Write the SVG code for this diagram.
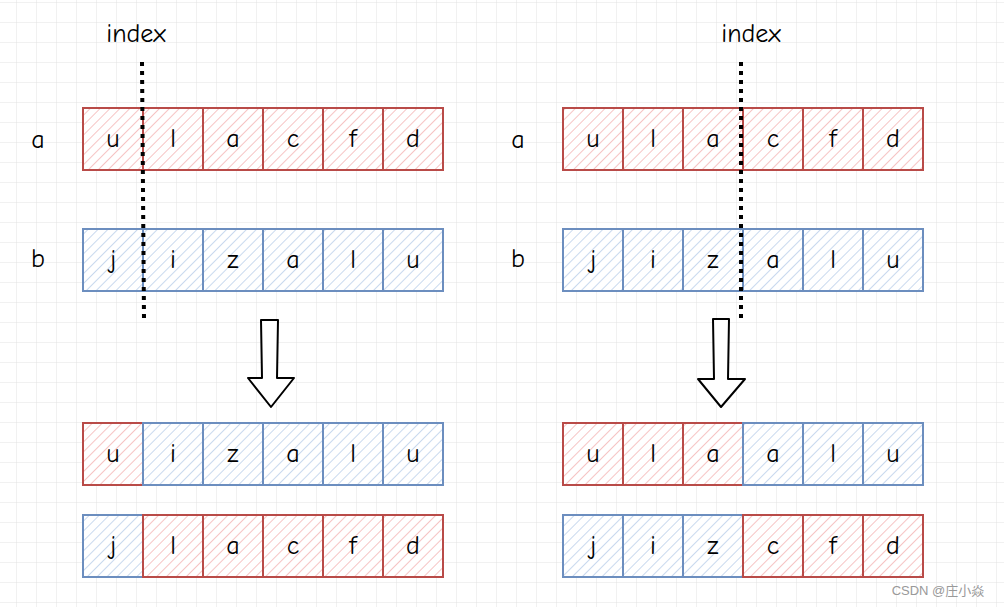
<svg xmlns="http://www.w3.org/2000/svg" width="1004" height="607" viewBox="0 0 1004 607">
<defs>
<pattern id="grid" width="20" height="20" patternUnits="userSpaceOnUse" x="-3" y="3"><path d="M20 0V20M0 20H20" fill="none" stroke="#e2e2e2" stroke-width="1"/></pattern>
<pattern id="hr" width="7" height="7" patternUnits="userSpaceOnUse" patternTransform="rotate(-45)"><rect width="7" height="7" fill="#fff"/><line x1="0" y1="0" x2="7" y2="0" stroke="#f4b6b6" stroke-width="1.6"/></pattern>
<pattern id="hb" width="7" height="7" patternUnits="userSpaceOnUse" patternTransform="rotate(-45)"><rect width="7" height="7" fill="#fff"/><line x1="0" y1="0" x2="7" y2="0" stroke="#bcd0ea" stroke-width="1.6"/></pattern>
</defs>
<style>
.r{fill:url(#hr);stroke:#b94b48;stroke-width:2}
.b{fill:url(#hb);stroke:#6c8ebf;stroke-width:2}
text{font-family:"Comic Neue","Liberation Sans",sans-serif;font-size:26px;fill:#000;text-anchor:middle;dominant-baseline:central}
.dot{stroke:#000;stroke-width:4;stroke-dasharray:4 5;fill:none}
.arr{fill:#fff;stroke:#000;stroke-width:2;stroke-linejoin:round}
</style>
<rect width="1004" height="607" fill="#fff"/>
<rect width="1004" height="607" fill="url(#grid)"/>
<g id="labels">
<text x="136" y="34">index</text><text x="751" y="34">index</text>
<text x="38" y="140">a</text><text x="38" y="259">b</text>
<text x="518" y="140">a</text><text x="518" y="259">b</text>
</g>
<g id="left-a"><rect class="r" x="83" y="108" width="60" height="62"/><text x="113" y="139">u</text><rect class="r" x="143" y="108" width="60" height="62"/><text x="173" y="139">l</text><rect class="r" x="203" y="108" width="60" height="62"/><text x="233" y="139">a</text><rect class="r" x="263" y="108" width="60" height="62"/><text x="293" y="139">c</text><rect class="r" x="323" y="108" width="60" height="62"/><text x="353" y="139">f</text><rect class="r" x="383" y="108" width="60" height="62"/><text x="413" y="139">d</text></g>
<g id="left-b"><rect class="b" x="83" y="229" width="60" height="62"/><text x="113" y="260">j</text><rect class="b" x="143" y="229" width="60" height="62"/><text x="173" y="260">i</text><rect class="b" x="203" y="229" width="60" height="62"/><text x="233" y="260">z</text><rect class="b" x="263" y="229" width="60" height="62"/><text x="293" y="260">a</text><rect class="b" x="323" y="229" width="60" height="62"/><text x="353" y="260">l</text><rect class="b" x="383" y="229" width="60" height="62"/><text x="413" y="260">u</text></g>
<g id="left-r1"><rect class="r" x="83" y="423" width="60" height="62"/><text x="113" y="454">u</text><rect class="b" x="143" y="423" width="60" height="62"/><text x="173" y="454">i</text><rect class="b" x="203" y="423" width="60" height="62"/><text x="233" y="454">z</text><rect class="b" x="263" y="423" width="60" height="62"/><text x="293" y="454">a</text><rect class="b" x="323" y="423" width="60" height="62"/><text x="353" y="454">l</text><rect class="b" x="383" y="423" width="60" height="62"/><text x="413" y="454">u</text></g>
<g id="left-r2"><rect class="b" x="83" y="515" width="60" height="62"/><text x="113" y="546">j</text><rect class="r" x="143" y="515" width="60" height="62"/><text x="173" y="546">l</text><rect class="r" x="203" y="515" width="60" height="62"/><text x="233" y="546">a</text><rect class="r" x="263" y="515" width="60" height="62"/><text x="293" y="546">c</text><rect class="r" x="323" y="515" width="60" height="62"/><text x="353" y="546">f</text><rect class="r" x="383" y="515" width="60" height="62"/><text x="413" y="546">d</text></g>
<g id="right-a"><rect class="r" x="563" y="108" width="60" height="62"/><text x="593" y="139">u</text><rect class="r" x="623" y="108" width="60" height="62"/><text x="653" y="139">l</text><rect class="r" x="683" y="108" width="60" height="62"/><text x="713" y="139">a</text><rect class="r" x="743" y="108" width="60" height="62"/><text x="773" y="139">c</text><rect class="r" x="803" y="108" width="60" height="62"/><text x="833" y="139">f</text><rect class="r" x="863" y="108" width="60" height="62"/><text x="893" y="139">d</text></g>
<g id="right-b"><rect class="b" x="563" y="229" width="60" height="62"/><text x="593" y="260">j</text><rect class="b" x="623" y="229" width="60" height="62"/><text x="653" y="260">i</text><rect class="b" x="683" y="229" width="60" height="62"/><text x="713" y="260">z</text><rect class="b" x="743" y="229" width="60" height="62"/><text x="773" y="260">a</text><rect class="b" x="803" y="229" width="60" height="62"/><text x="833" y="260">l</text><rect class="b" x="863" y="229" width="60" height="62"/><text x="893" y="260">u</text></g>
<g id="right-r1"><rect class="r" x="563" y="423" width="60" height="62"/><text x="593" y="454">u</text><rect class="r" x="623" y="423" width="60" height="62"/><text x="653" y="454">l</text><rect class="r" x="683" y="423" width="60" height="62"/><text x="713" y="454">a</text><rect class="b" x="743" y="423" width="60" height="62"/><text x="773" y="454">a</text><rect class="b" x="803" y="423" width="60" height="62"/><text x="833" y="454">l</text><rect class="b" x="863" y="423" width="60" height="62"/><text x="893" y="454">u</text></g>
<g id="right-r2"><rect class="b" x="563" y="515" width="60" height="62"/><text x="593" y="546">j</text><rect class="b" x="623" y="515" width="60" height="62"/><text x="653" y="546">i</text><rect class="b" x="683" y="515" width="60" height="62"/><text x="713" y="546">z</text><rect class="r" x="743" y="515" width="60" height="62"/><text x="773" y="546">c</text><rect class="r" x="803" y="515" width="60" height="62"/><text x="833" y="546">f</text><rect class="r" x="863" y="515" width="60" height="62"/><text x="893" y="546">d</text></g>
<g id="connectors">
<line class="dot" x1="142" y1="62" x2="144" y2="320"/>
<line class="dot" x1="741" y1="62" x2="741" y2="320"/>
<path class="arr" d="M261 320H278L277 378H294L271 407L248 378H262Z"/>
<path class="arr" d="M713 319H729L728 379H745L721 407L698 379H714Z"/>
</g>
<text x="938" y="590" style="font-family:'Liberation Sans','Noto Sans CJK SC',sans-serif;font-size:13px;fill:#999">CSDN @庄小焱</text>
</svg>
